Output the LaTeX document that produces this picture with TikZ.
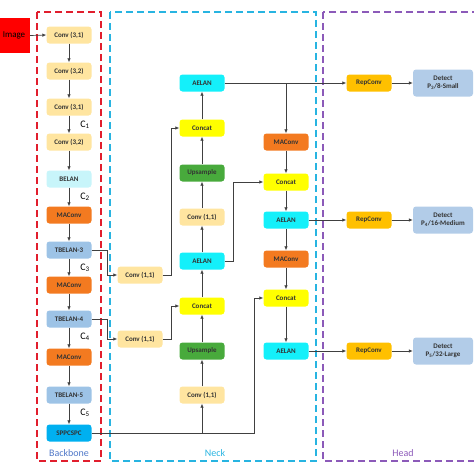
\documentclass[tikz,border=0pt]{standalone}
\usepackage{fontspec}
\setmainfont{Carlito}
\usetikzlibrary{arrows.meta}

\definecolor{convcol}{RGB}{255,229,160}
\definecolor{belancol}{RGB}{200,245,250}
\definecolor{maconvcol}{RGB}{243,122,32}
\definecolor{tbelancol}{RGB}{157,195,230}
\definecolor{sppcol}{RGB}{0,176,240}
\definecolor{aelancol}{RGB}{20,240,250}
\definecolor{concatcol}{RGB}{255,255,0}
\definecolor{upcol}{RGB}{72,170,60}
\definecolor{repcol}{RGB}{255,192,0}
\definecolor{detcol}{RGB}{178,204,232}
\definecolor{bbline}{RGB}{225,30,45}
\definecolor{bbtext}{RGB}{80,120,200}
\definecolor{neckline}{RGB}{40,180,225}
\definecolor{headline}{RGB}{140,90,185}

\tikzset{
  blk/.style={rounded corners=3pt, minimum width=45pt, minimum height=17pt,
    inner sep=0pt, font=\fontsize{7}{8}\selectfont\bfseries, text=black!80},
  conv/.style={blk, fill=convcol},
  belan/.style={blk, fill=belancol},
  maconv/.style={blk, fill=maconvcol},
  tbelan/.style={blk, fill=tbelancol},
  spp/.style={blk, fill=sppcol},
  aelan/.style={blk, fill=aelancol},
  concat/.style={blk, fill=concatcol},
  upsmp/.style={blk, fill=upcol},
  rep/.style={blk, fill=repcol},
  detect/.style={blk, fill=detcol, minimum width=60pt, minimum height=27pt, align=center},
  region/.style={dash pattern=on 7pt off 4pt, line width=1.2pt},
  clab/.style={font=\fontsize{10}{11}\selectfont},
  rlab/.style={font=\fontsize{10}{11}\selectfont},
  lnk/.style={draw=black!75, line width=0.7pt, -{Latex[length=4pt,width=3.5pt]}},
  line/.style={draw=black!75, line width=0.7pt}
}

\begin{document}
\begin{tikzpicture}[x=1pt,y=-1pt]
\useasboundingbox (0,0) rectangle (474,474);

% regions
\draw[region, bbline] (37,12) rectangle (101,461);
\draw[region, neckline] (110,12) rectangle (316,461);
\draw[region, headline] (323,12) rectangle (480,461);
\node[rlab, text=bbtext] (lbb) at (69,453) {Backbone};
\node[rlab, text=neckline] (lneck) at (215,453) {Neck};
\node[rlab, text=headline] (lhead) at (403,453) {Head};

% input
\node[fill=red, minimum width=40pt, minimum height=35pt, inner sep=0pt,
  font=\fontsize{9}{10}\selectfont] (img) at (10,35.5) {\hspace*{8pt}Image};

% backbone
\node[conv] (b1) at (69,35) {Conv (3,1)};
\node[conv] (b2) at (69,71) {Conv (3,2)};
\node[conv] (b3) at (69,107) {Conv (3,1)};
\node[conv] (b4) at (69,142) {Conv (3,2)};
\node[belan] (b5) at (69,179) {BELAN};
\node[maconv] (b6) at (69,215) {MAConv};
\node[tbelan] (b7) at (69,250) {TBELAN-3};
\node[maconv] (b8) at (69,285) {MAConv};
\node[tbelan] (b9) at (69,319) {TBELAN-4};
\node[maconv] (b10) at (69,357) {MAConv};
\node[tbelan] (b11) at (69,395) {TBELAN-5};
\node[spp] (b12) at (69,433) {SPPCSPC};

\node[clab] (cl1) at (85,125) {C\textsubscript{1}};
\node[clab] (cl2) at (85,197) {C\textsubscript{2}};
\node[clab] (cl3) at (85,268) {C\textsubscript{3}};
\node[clab] (cl4) at (85,337) {C\textsubscript{4}};
\node[clab] (cl5) at (85,413) {C\textsubscript{5}};

% neck
\node[conv] (nl1) at (140,275) {Conv (1,1)};
\node[conv] (nl2) at (140,339) {Conv (1,1)};

\node[aelan] (nm1) at (202,83) {AELAN};
\node[concat] (nm2) at (202,128) {Concat};
\node[upsmp] (nm3) at (202,173) {Upsample};
\node[conv] (nm4) at (202,217) {Conv (1,1)};
\node[aelan] (nm5) at (202,261) {AELAN};
\node[concat] (nm6) at (202,306) {Concat};
\node[upsmp] (nm7) at (202,351) {Upsample};
\node[conv] (nm8) at (202,395) {Conv (1,1)};

\node[maconv] (nr1) at (286,142) {MAConv};
\node[concat] (nr2) at (286,182) {Concat};
\node[aelan] (nr3) at (286,220) {AELAN};
\node[maconv] (nr4) at (286,259) {MAConv};
\node[concat] (nr5) at (286,298) {Concat};
\node[aelan] (nr6) at (286,351) {AELAN};

% head
\node[rep] (h1) at (369,83) {RepConv};
\node[rep] (h2) at (369,220) {RepConv};
\node[rep] (h3) at (369,351) {RepConv};
\node[detect] (d1) at (443,83) {Detect\\P\textsubscript{3}/8-Small};
\node[detect] (d2) at (443,220) {Detect\\P\textsubscript{4}/16-Medium};
\node[detect] (d3) at (443,351) {Detect\\P\textsubscript{5}/32-Large};

\coordinate (sj) at (254,433);

% connections
\draw[lnk] (img.east) -- (b1.west);
\foreach \a/\b in {b1/b2,b2/b3,b3/b4,b4/b5,b5/b6,b6/b7,b7/b8,b8/b9,b9/b10,b10/b11,b11/b12}
  \draw[lnk] (\a) -- (\b);
\draw[lnk] (b7.east) -- ++(16,0) |- (nl1.west);
\draw[lnk] (b9.east) -- ++(16,0) |- (nl2.west);
\draw[lnk] (b12.east) -| (nm8.south);
\draw[lnk] (b12.east) -- (sj) |- (nr5.west);
\draw[lnk] (nl1.east) -- ++(9,0) |- (nm2.west);
\draw[lnk] (nl2.east) -- ++(9,0) |- (nm6.west);
\foreach \a/\b in {nm8/nm7,nm7/nm6,nm6/nm5,nm5/nm4,nm4/nm3,nm3/nm2,nm2/nm1}
  \draw[lnk] (\a) -- (\b);
\draw[lnk] (nm5.east) -- ++(9,0) |- (nr2.west);
\draw[lnk] (nm1.east) -- (h1.west);
\draw[lnk] (nm1.east -| nr1.north) -- (nr1.north);
\foreach \a/\b in {nr1/nr2,nr2/nr3,nr3/nr4,nr4/nr5,nr5/nr6}
  \draw[lnk] (\a) -- (\b);
\draw[lnk] (nr3.east) -- (h2.west);
\draw[lnk] (nr6.east) -- (h3.west);
\draw[lnk] (h1) -- (d1);
\draw[lnk] (h2) -- (d2);
\draw[lnk] (h3) -- (d3);
\end{tikzpicture}
\end{document}
